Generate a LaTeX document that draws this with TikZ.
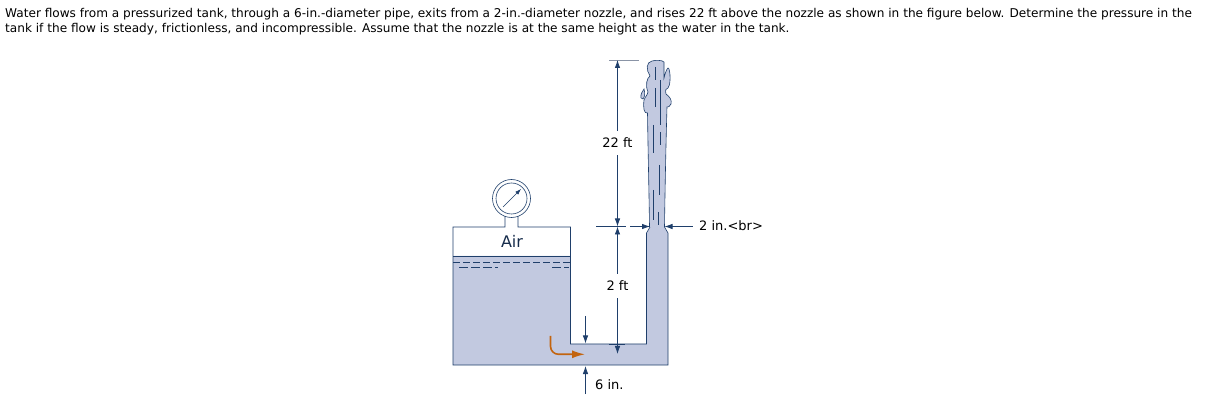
\documentclass[tikz,border=0pt]{standalone}
\usepackage{fontspec}
\setmainfont{DejaVu Sans}
\usepackage{tikz}
\usetikzlibrary{arrows.meta}
\tikzset{>={Latex[length=8pt, width=5.5pt]}}
\definecolor{water}{HTML}{C2C9E0}
\definecolor{wall}{HTML}{1F3F6B}
\definecolor{flow}{HTML}{C2640F}
\definecolor{rule}{HTML}{8A94A6}
\tikzset{
    dim/.style={wall, line width=0.8pt},
    lab/.style={font=\fontsize{13}{15}\selectfont, inner xsep=2pt, inner ysep=7pt, text=black},
    jetline/.style={wall, line width=0.7pt}
}

\begin{document}
\begin{tikzpicture}[x=1pt, y=-1pt]
    \useasboundingbox (0, 0) rectangle (1205, 403);
    \node[anchor=north west, align=left, inner sep=0pt, font=\fontsize{12.1}{14.9}\selectfont] (question) at (5, 8) {Water flows from a pressurized tank, through a 6-in.-diameter pipe, exits from a 2-in.-diameter nozzle, and rises 22 ft above the nozzle as shown in the figure below. Determine the pressure in the\\tank if the flow is steady, frictionless, and incompressible. Assume that the nozzle is at the same height as the water in the tank.};

    \fill[water] (453, 256) -- (570.5, 256) -- (570.5, 344) -- (646.5, 344) -- (646.5, 233) -- (650, 227) -- (664.5, 227) -- (668, 233) -- (668, 365) -- (453, 365) -- cycle;
    \draw[wall, semithick] (505, 214) -- (505, 227) -- (453, 227) -- (453, 365) -- (668, 365) -- (668, 233) -- (664.5, 227) (650, 227) -- (646.5, 233) -- (646.5, 344) -- (570.5, 344) -- (570.5, 227) -- (518, 227) -- (518, 214);
    \draw[wall, semithick] (453, 256) -- (570.5, 256);
    \draw[wall, line width=0.4pt, dash pattern=on 7pt off 3pt] (453, 262.5) -- (570, 262.5);
    \draw[wall, line width=0.4pt, dash pattern=on 9pt off 3pt] (459, 267) -- (498, 267) (552, 267) -- (569, 267);

    \node[draw=wall, semithick, circle, fill=white, minimum size=38pt, inner sep=0pt] (gauge) at (511.5, 198.5) {};
    \draw[wall, semithick] (gauge.center) circle [radius=15.5];
    \draw[wall, line width=0.5pt, -{Latex[length=6pt, width=4pt]}] (503, 207) -- (521, 189);
    \node[font=\fontsize{16}{18}\selectfont, text=wall!70!black] (air) at (512, 241.5) {Air};

    \fill[water] (649.5, 227) .. controls (649, 190) and (648, 150) .. (647.5, 113) .. controls (644, 114) and (643, 108) .. (644, 100) .. controls (646, 95) and (648, 95) .. (648, 92) .. controls (645, 85) and (647, 78) .. (650, 76) .. controls (646, 70) and (646, 62) .. (652, 61) .. controls (656, 60) and (662, 60) .. (664, 62) .. controls (664, 68) and (664, 72) .. (664, 78) .. controls (666, 70) and (668, 66) .. (669, 69) .. controls (671, 76) and (670, 86) .. (668, 88) .. controls (666, 88) and (665, 90) .. (666, 94) .. controls (670, 97) and (672, 100) .. (671, 104) .. controls (670, 107) and (668, 107) .. (667, 107) .. controls (666, 140) and (665, 190) .. (664.5, 227) -- cycle;
    \draw[wall, semithick] (649.5, 227) .. controls (649, 190) and (648, 150) .. (647.5, 113) .. controls (644, 114) and (643, 108) .. (644, 100) .. controls (646, 95) and (648, 95) .. (648, 92) .. controls (645, 85) and (647, 78) .. (650, 76) .. controls (646, 70) and (646, 62) .. (652, 61) .. controls (656, 60) and (662, 60) .. (664, 62) .. controls (664, 68) and (664, 72) .. (664, 78) .. controls (666, 70) and (668, 66) .. (669, 69) .. controls (671, 76) and (670, 86) .. (668, 88) .. controls (666, 88) and (665, 90) .. (666, 94) .. controls (670, 97) and (672, 100) .. (671, 104) .. controls (670, 107) and (668, 107) .. (667, 107) .. controls (666, 140) and (665, 190) .. (664.5, 227);
    \draw[wall, semithick, fill=water] (641, 95) .. controls (642, 91) and (644, 90) .. (644, 89) .. controls (645, 92) and (645, 97) .. (643, 99) .. controls (641, 99) and (640, 97) .. (641, 95) -- cycle;
    \foreach \jx/\jtop/\jbot in {655.7/67/80, 655.7/88/107, 660.7/80/125, 653/125/153, 660/132/145, 659.3/165/195, 653.3/190/220, 658.3/212/225}
        \draw[jetline] (\jx, \jtop) -- (\jx, \jbot);

    \coordinate (top22) at (617.5, 60);
    \coordinate (mid) at (617.5, 226.5);
    \coordinate (low) at (617.5, 354);
    \coordinate (nozL) at (650, 226.5);
    \coordinate (nozR) at (664.5, 226.5);
    \coordinate (pipeT) at (585.5, 343.5);
    \coordinate (pipeB) at (585.5, 366);
    \draw[rule, thick] (609, 60) -- (639, 60);
    \draw[dim] (596, 226.5) -- (626, 226.5);
    \draw[wall, thick] (609, 344) -- (625, 344);

    \node[lab] (lab22) at (617.5, 143) {22 ft};
    \node[lab] (lab2) at (617.5, 286) {2 ft};
    \node[lab, inner ysep=1pt, anchor=west] (labnoz) at (697, 226) {2 in.<br>};
    \node[lab, inner ysep=1pt, anchor=west] (lab6) at (593, 385) {6 in.};
    \draw[dim, ->] (lab22) -- (top22);
    \draw[dim, ->] (lab22) -- (mid);
    \draw[dim, ->] (lab2) -- (mid);
    \draw[dim, ->] (lab2) -- (low);
    \draw[dim, ->] (630, 226.5) -- (nozL);
    \draw[dim, ->] (692.5, 226.5) -- (nozR);
    \draw[dim, ->] (585.5, 316) -- (pipeT);
    \draw[dim, ->] (585.5, 394) -- (pipeB);

    \draw[flow, line width=1.6pt, rounded corners=8pt, -{Latex[length=13pt, width=8pt]}] (550.5, 336) -- (550.5, 354.3) -- (585, 354.3);
\end{tikzpicture}
\end{document}
